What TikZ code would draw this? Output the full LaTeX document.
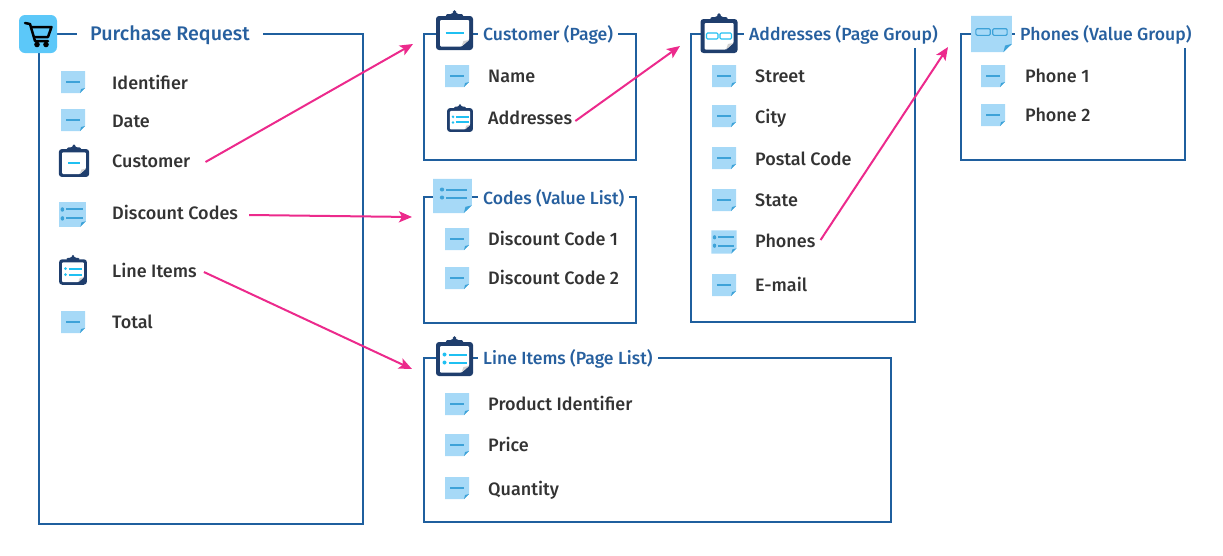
\documentclass[tikz,border=0pt]{standalone}
\usepackage{fontspec}
\setmainfont{Fira Sans Medium}
\usetikzlibrary{arrows.meta}
\definecolor{frameblue}{HTML}{1F5F9E}
\definecolor{titleblue}{HTML}{27609F}
\definecolor{notefill}{HTML}{A6D9F7}
\definecolor{notemark}{HTML}{3DA2D8}
\definecolor{navy}{HTML}{1F3E6D}
\definecolor{cyanmark}{HTML}{1FC0F2}
\definecolor{cartfill}{HTML}{5CC8F9}
\definecolor{pinkline}{HTML}{EC2A8C}
\definecolor{itemtext}{HTML}{333333}
\newcommand{\markdash}{\draw[mk,line width=1.7pt] (-7,0) -- (7,0);}
\newcommand{\markdashwide}{\draw[mk,line width=2pt] (-9,0) -- (9,0);}
\newcommand{\marklist}{%
  \fill[mk] (-10,-4.500) circle (2) (-10,3.500) circle (2);
  \draw[mk,line width=2pt] (-6,-4.500) -- (12.500,-4.500);
  \draw[mk,line width=2pt] (-6,3.500) -- (12.500,3.500);}
\newcommand{\marklistsmall}{\begin{scope}[xscale=0.82,xshift=-1pt]\marklist\end{scope}}
\newcommand{\markglass}{%
  \draw[mk,line width=1.100pt,rounded corners=1.200] (-12.500,-3) rectangle (-1,3);
  \draw[mk,line width=1.100pt,rounded corners=1.200] (1,-3) rectangle (12.500,3);}
\tikzset{
  x=1pt,y=-1pt,
  frame/.style={draw=frameblue,line width=2.200pt,fill=none},
  titletext/.style={anchor=west,fill=white,text=titleblue,inner ysep=0pt,inner xsep=5pt,minimum height=26pt,yshift=-1pt,font=\fontsize{17.600}{19}\selectfont},
  itemtext/.style={anchor=west,inner sep=0pt,text=itemtext,text height=13pt,text depth=4pt,yshift=-2pt,font=\fontsize{18}{20}\selectfont},
  flow/.style={draw=pinkline,line width=2pt,-{Stealth[length=13pt,width=11pt,inset=3pt]}},
  pics/noteicon/.style={code={
    \colorlet{mk}{notemark}
    \fill[notefill] (-12,-11) -- (12,-11) -- (12,6) -- (7,11) -- (-12,11) -- cycle;
    \fill[notemark] (12,6) -- (8,7) -- (7,11) -- cycle;
    #1
  }},
  pics/clipicon/.style={code={
    \colorlet{mk}{cyanmark}
    \fill[navy,rounded corners=3] (-18.500,-17) rectangle (18.500,17);
    \fill[navy,rounded corners=1] (-9,-16) -- (-8,-19) -- (-3,-19) -- (0,-22) -- (3,-19) -- (8,-19) -- (9,-16) -- cycle;
    \fill[navy] (0,-21) circle (1.800);
    \fill[white,rounded corners=1] (-14.500,-13) -- (14.500,-13) -- (14.500,7) -- (7,13.500) -- (-14.500,13.500) -- cycle;
    \fill[white!82!black] (14.500,7) -- (9,8) -- (7,13.500) -- cycle;
    #1
  }},
  pics/cartmark/.style={code={
    \draw[black,line width=2.500pt,line join=round,line cap=round]
      (-13,-11) -- (-8,-10) -- (-3,7) -- (10,7);
    \draw[black,line width=2.500pt,line join=round]
      (-7,-7) -- (13.500,-7) -- (10,3) -- (-4.500,3);
    \fill[black] (-1,10.500) circle (2.800) (8,10.500) circle (2.800);
  }},
}
\begin{document}
\begin{tikzpicture}
\useasboundingbox (0,0) rectangle (1223,555);
% frames
\draw[frame] (39,34) rectangle (363,524);
\draw[frame] (424,34) rectangle (636,160);
\draw[frame] (424,197) rectangle (636,323);
\draw[frame] (691,34) rectangle (915,322);
\draw[frame] (961,34) rectangle (1185,160);
\draw[frame] (424,358) rectangle (891,522);
% titles
\node[titletext,inner xsep=13pt,font=\fontsize{19.700}{21}\selectfont] (tPurchase) at (77,34) {Purchase Request};
\node[titletext] (tCustomer) at (478,34) {Customer (Page)};
\node[titletext] (tCodes) at (478,197) {Codes (Value List)};
\node[titletext] (tAddresses) at (744,34) {Addresses (Page Group)};
\node[titletext] (tPhones) at (1015,34) {Phones (Value Group)};
\node[titletext] (tLines) at (478,358) {Line Items (Page List)};
% header icons
\fill[cartfill,rounded corners=6] (19,15) rectangle (57,53);
\pic at (38,34) {cartmark};
\pic at (454.500,33) {clipicon={\markdashwide}};
\pic[xscale=1.62,yscale=1.55] at (452.500,196) {noteicon={}};
\begin{scope}[shift={(453,194)},xscale=1.1]\colorlet{mk}{notemark}\marklist\end{scope}
\pic at (719,36) {clipicon={\markglass}};
\pic[xscale=1.7,yscale=1.65] at (991.500,34) {noteicon={}};
\begin{scope}[shift={(991.500,32)},xscale=1.25,yscale=1.1]\colorlet{mk}{notemark}\markglass\end{scope}
\pic at (454.500,359) {clipicon={\marklist}};
% purchase request
\node[itemtext] (iIdentifier) at (112,83) {Identifier};
\node[itemtext] (iDate) at (112,121) {Date};
\node[itemtext] (iCustomer) at (112,161) {Customer};
\node[itemtext] (iCodes) at (112,213) {Discount Codes};
\node[itemtext] (iLines) at (112,271) {Line Items};
\node[itemtext] (iTotal) at (112,322) {Total};
\pic at (73,82) {noteicon={\markdash}};
\pic at (73,120) {noteicon={\markdash}};
\pic[scale=0.82] at (74,163) {clipicon={\markdash}};
\pic[scale=1.12] at (72.500,214.500) {noteicon={\marklistsmall}};
\pic[scale=0.75] at (73,272) {clipicon={\marklist}};
\pic at (73,322) {noteicon={\markdash}};
% customer
\node[itemtext] (iName) at (488,76) {Name};
\node[itemtext] (iAddresses) at (488,118) {Addresses};
\pic at (457,76) {noteicon={\markdash}};
\pic[scale=0.7] at (460,120) {clipicon={\marklist}};
% codes
\node[itemtext] (iCode1) at (488,239) {Discount Code 1};
\node[itemtext] (iCode2) at (488,278) {Discount Code 2};
\pic at (457,239) {noteicon={\markdash}};
\pic at (457,278) {noteicon={\markdash}};
% addresses
\node[itemtext] (iStreet) at (755,76) {Street};
\node[itemtext] (iCity) at (755,117) {City};
\node[itemtext] (iPostal) at (755,159) {Postal Code};
\node[itemtext] (iState) at (755,200) {State};
\node[itemtext] (iPhones) at (755,241) {Phones};
\node[itemtext] (iEmail) at (755,285) {E-mail};
\pic at (724,76) {noteicon={\markdash}};
\pic at (724,116) {noteicon={\markdash}};
\pic at (724,158) {noteicon={\markdash}};
\pic at (724,200) {noteicon={\markdash}};
\pic[scale=1.05] at (724,242) {noteicon={\marklistsmall}};
\pic at (724,285) {noteicon={\markdash}};
% phones
\node[itemtext] (iPhone1) at (1025,76) {Phone 1};
\node[itemtext] (iPhone2) at (1025,115) {Phone 2};
\pic at (993,76) {noteicon={\markdash}};
\pic at (993,115) {noteicon={\markdash}};
% line items
\node[itemtext] (iProduct) at (488,404) {Product Identifier};
\node[itemtext] (iPrice) at (488,445) {Price};
\node[itemtext] (iQuantity) at (488,489) {Quantity};
\pic at (457,404) {noteicon={\markdash}};
\pic at (457,445) {noteicon={\markdash}};
\pic at (457,488) {noteicon={\markdash}};
% connectors
\coordinate (eCustomer) at (413,44);
\coordinate (eCodes) at (412,217);
\coordinate (eLines) at (412,369);
\coordinate (eAddresses) at (680,46);
\coordinate (ePhones) at (948,47);
\draw[flow] (iCustomer.east) ++(15,-1) -- (eCustomer);
\draw[flow] (iCodes.east) ++(11,0) -- (eCodes);
\draw[flow] (iLines.east) ++(7,-1) -- (eLines);
\draw[flow] (iAddresses.east) ++(3,1) -- (eAddresses);
\draw[flow] (iPhones.east) ++(5,-3) -- (ePhones);
\end{tikzpicture}
\end{document}
